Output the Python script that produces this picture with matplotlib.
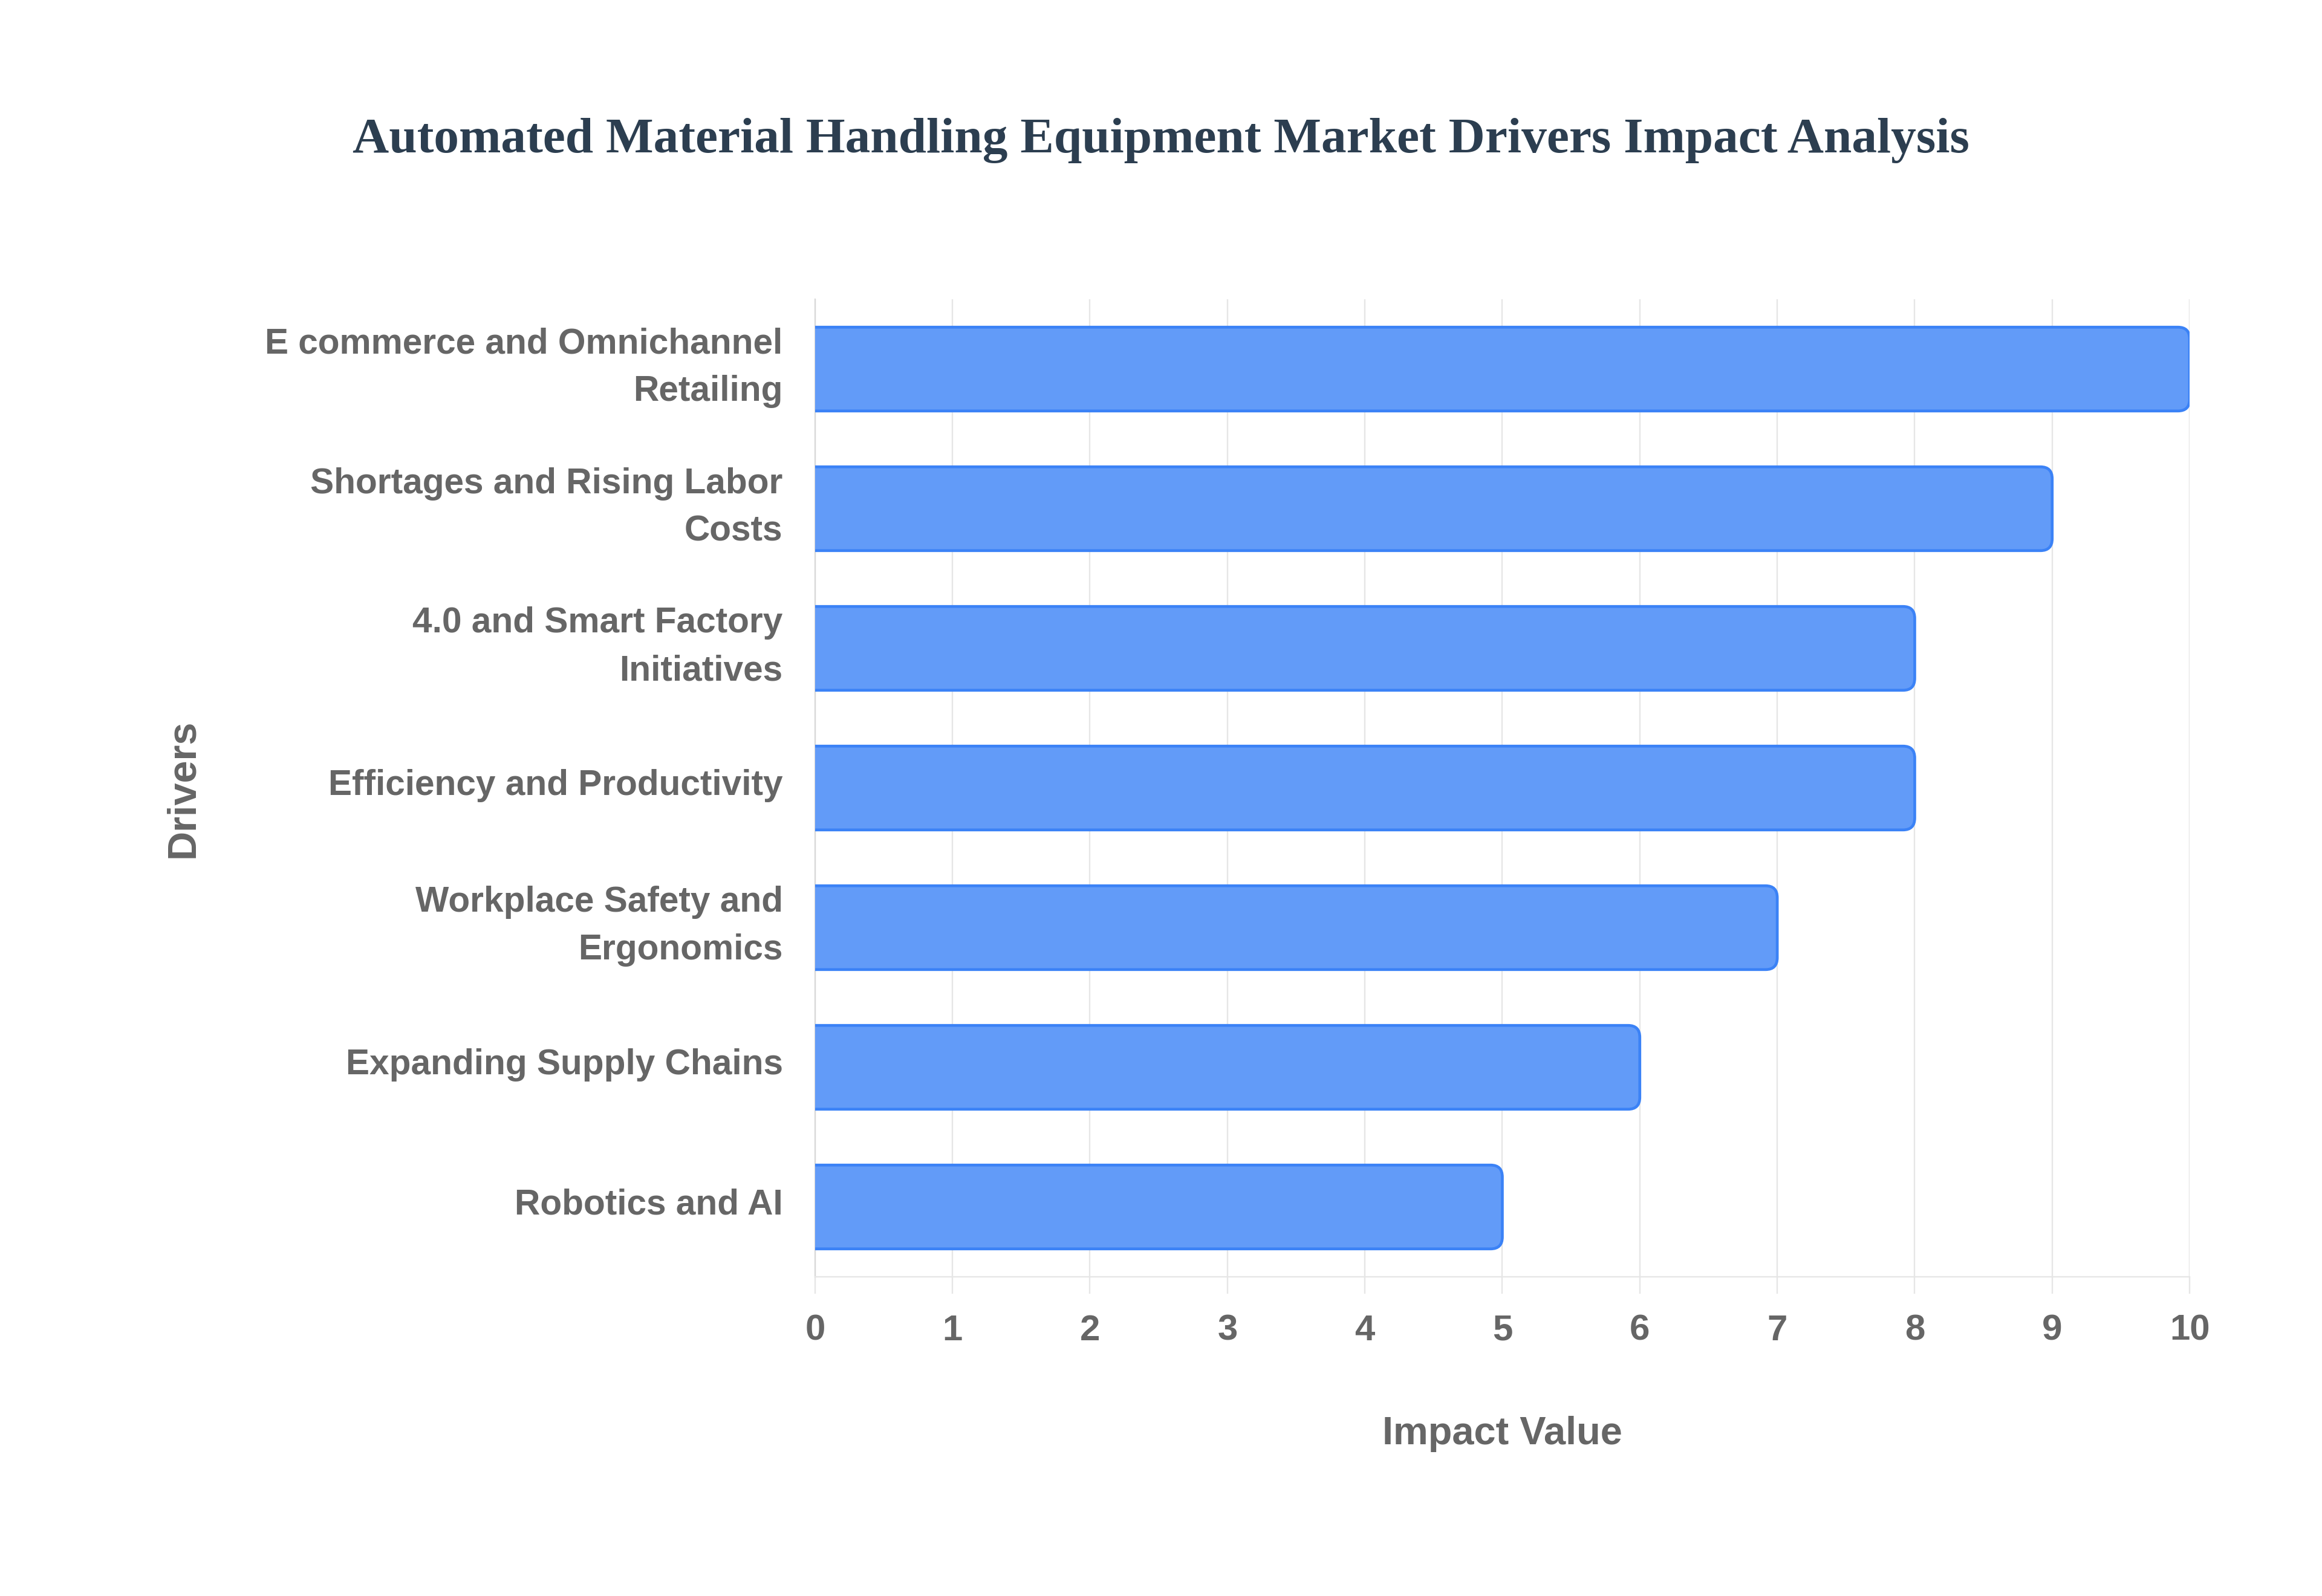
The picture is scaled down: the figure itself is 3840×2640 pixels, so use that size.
import matplotlib
matplotlib.use("Agg")
import matplotlib.pyplot as plt
import matplotlib.transforms as mtransforms
from matplotlib.patches import FancyBboxPatch

# data
drivers = ["E commerce and Omnichannel\nRetailing",
           "Shortages and Rising Labor\nCosts",
           "4.0 and Smart Factory\nInitiatives",
           "Efficiency and Productivity",
           "Workplace Safety and\nErgonomics",
           "Expanding Supply Chains",
           "Robotics and AI"]
impact = [10, 9, 8, 8, 7, 6, 5]
xticks = list(range(0, 11))

fill_color = "#629bf8"
edge_color = "#3b82f6"
grid_color = "#e6e6e6"
text_color = "#666666"

plt.rcParams['font.family'] = ['Liberation Sans', 'DejaVu Sans']

fig = plt.figure(figsize=(16, 11), dpi=240)
ax = fig.add_axes([0.351, 0.2, 0.592, 0.6125])

pos = list(range(len(drivers)))
bars = ax.barh(pos, impact, height=0.6, color="none", edgecolor="none")

# rounded right end, square start (left part clipped by the axes)
for rect in bars:
    x, y = rect.get_x(), rect.get_y()
    w, h = rect.get_width(), rect.get_height()
    patch = FancyBboxPatch((x - 0.5, y), w + 0.5, h,
                           boxstyle="round,pad=0,rounding_size=0.085",
                           facecolor=fill_color, edgecolor=edge_color,
                           linewidth=1.4, zorder=3)
    ax.add_patch(patch)

ax.set_xlim(0, 10)
ax.set_ylim(6.5, -0.5)
ax.set_xticks(xticks)
ax.set_yticks(pos)
ax.set_yticklabels(drivers, linespacing=1.55)

ax.grid(axis="x", color=grid_color, linewidth=0.7, zorder=0)
ax.set_axisbelow(True)
for side in ["top", "right"]:
    ax.spines[side].set_visible(False)
ax.spines["left"].set_color("#d9d9d9")
ax.spines["left"].set_linewidth(0.7)
ax.spines["bottom"].set_color(grid_color)
ax.spines["bottom"].set_linewidth(0.7)

ax.tick_params(axis="x", length=8.5, width=0.7, color=grid_color, pad=10,
               labelsize=18, labelcolor=text_color)
ax.tick_params(axis="y", length=0, pad=16, labelsize=17.6, labelcolor=text_color)
for lab in ax.get_xticklabels() + ax.get_yticklabels():
    lab.set_fontweight("bold")

# nudge the driver labels up a little, a bit more for the wrapped ones
for lab in ax.get_yticklabels():
    dy = 6 / 72 if "\n" in lab.get_text() else 3 / 72
    lab.set_transform(lab.get_transform() + mtransforms.ScaledTranslation(0, dy, fig.dpi_scale_trans))

ax.set_xlabel("Impact Value", fontsize=19.5, fontweight="bold", color=text_color, labelpad=34)
ax.set_ylabel("Drivers", fontsize=20, fontweight="bold", color=text_color)
ax.yaxis.set_label_coords(0.087, 0.506, transform=fig.transFigure)

fig.text(0.5, 0.912, "Automated Material Handling Equipment Market Drivers Impact Analysis",
         ha="center", va="center", fontsize=25, fontweight="bold",
         color="#2c3e50", family=["Liberation Serif", "DejaVu Serif"])

fig.savefig("out.png", dpi=240, facecolor="white")
